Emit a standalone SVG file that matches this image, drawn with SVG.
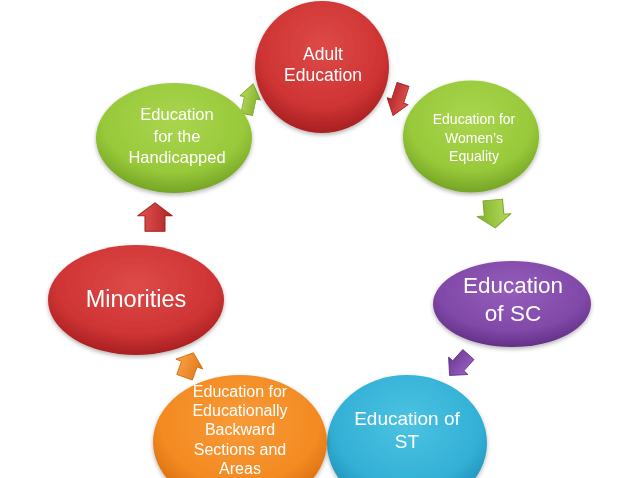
<svg xmlns="http://www.w3.org/2000/svg" width="638" height="478" viewBox="0 0 638 478">
<style>
.t{font-family:"Liberation Sans",Arial,sans-serif;fill:#ffffff;text-anchor:middle}
.a{stroke-width:0.8;stroke-linejoin:round}
</style>
<defs>
<filter id="sh" x="-20%" y="-20%" width="140%" height="150%">
<feGaussianBlur in="SourceAlpha" stdDeviation="2"/>
<feOffset dy="2"/>
<feComponentTransfer><feFuncA type="linear" slope="0.3"/></feComponentTransfer>
<feMerge><feMergeNode/><feMergeNode in="SourceGraphic"/></feMerge>
</filter>
<radialGradient id="gRed" cx="50%" cy="35%" r="65%">
<stop offset="0" stop-color="#dd4a48"/><stop offset="0.7" stop-color="#cf3434"/><stop offset="1" stop-color="#a82022"/>
</radialGradient>
<radialGradient id="gGreen" cx="50%" cy="35%" r="65%">
<stop offset="0" stop-color="#a9d54e"/><stop offset="0.7" stop-color="#98c93a"/><stop offset="1" stop-color="#76a426"/>
</radialGradient>
<radialGradient id="gPurple" cx="50%" cy="35%" r="65%">
<stop offset="0" stop-color="#955dbb"/><stop offset="0.7" stop-color="#8149a8"/><stop offset="1" stop-color="#633088"/>
</radialGradient>
<radialGradient id="gBlue" cx="50%" cy="35%" r="65%">
<stop offset="0" stop-color="#4cc3e2"/><stop offset="0.7" stop-color="#33b0d6"/><stop offset="1" stop-color="#1f8fb6"/>
</radialGradient>
<radialGradient id="gOrange" cx="50%" cy="35%" r="65%">
<stop offset="0" stop-color="#f89a38"/><stop offset="0.7" stop-color="#f38a22"/><stop offset="1" stop-color="#d56d10"/>
</radialGradient>
<linearGradient id="aRed" x1="0" y1="0" x2="0" y2="1"><stop offset="0" stop-color="#e25450"/><stop offset="1" stop-color="#b02626"/></linearGradient>
<linearGradient id="aGreen" x1="0" y1="0" x2="0" y2="1"><stop offset="0" stop-color="#b4dc5c"/><stop offset="1" stop-color="#82b02c"/></linearGradient>
<linearGradient id="aPurple" x1="0" y1="0" x2="0" y2="1"><stop offset="0" stop-color="#9a62c2"/><stop offset="1" stop-color="#6c3a94"/></linearGradient>
<linearGradient id="aOrange" x1="0" y1="0" x2="0" y2="1"><stop offset="0" stop-color="#fba446"/><stop offset="1" stop-color="#e07818"/></linearGradient>
<polygon id="arr" points="-13,-7.5 1,-7.5 1,-13 13,0 1,13 1,7.5 -13,7.5"/>
</defs>

<g id="connectors">
<use href="#arr" class="a" fill="url(#aRed)" stroke="#a02020" transform="translate(398,100) rotate(108) scale(1.25,0.85)"/>
<use href="#arr" class="a" fill="url(#aGreen)" stroke="#7aa428" transform="translate(494,214) rotate(85) scale(1.08,1.3)"/>
<use href="#arr" class="a" fill="url(#aPurple)" stroke="#5e2e84" transform="translate(459,365) rotate(132) scale(1.08,1.0)"/>
<use href="#arr" class="a" fill="url(#aOrange)" stroke="#d06c10" transform="translate(189,365) rotate(-70) scale(1.0,1.1)"/>
<use href="#arr" class="a" fill="url(#aRed)" stroke="#a02020" transform="translate(155,217) rotate(-90) scale(1.1,1.33)"/>
<use href="#arr" class="a" fill="url(#aGreen)" stroke="#7aa428" transform="translate(250,99) rotate(-78) scale(1.2,0.8)"/>
</g>

<g id="adult" filter="url(#sh)">
<ellipse cx="322" cy="67" rx="67" ry="66" fill="url(#gRed)"/>
<text class="t" x="323" y="60" font-size="17.5">Adult</text>
<text class="t" x="323" y="81" font-size="17.5">Education</text>
</g>

<g id="women" filter="url(#sh)">
<ellipse cx="471" cy="136.5" rx="68" ry="56" fill="url(#gGreen)"/>
<text class="t" x="474" y="124" font-size="14">Education for</text>
<text class="t" x="474" y="142.5" font-size="14">Women’s</text>
<text class="t" x="474" y="161" font-size="14">Equality</text>
</g>

<g id="sc" filter="url(#sh)">
<ellipse cx="512" cy="304" rx="79" ry="43" fill="url(#gPurple)"/>
<text class="t" x="513" y="293" font-size="22.5">Education</text>
<text class="t" x="513" y="321" font-size="22.5">of SC</text>
</g>

<g id="st" filter="url(#sh)">
<ellipse cx="407" cy="443" rx="80" ry="68" fill="url(#gBlue)"/>
<text class="t" x="407" y="425" font-size="19">Education of</text>
<text class="t" x="407" y="448" font-size="19">ST</text>
</g>

<g id="backward" filter="url(#sh)">
<ellipse cx="240" cy="442" rx="87" ry="67" fill="url(#gOrange)"/>
<text class="t" x="240" y="397" font-size="16">Education for</text>
<text class="t" x="240" y="416" font-size="16">Educationally</text>
<text class="t" x="240" y="435" font-size="16">Backward</text>
<text class="t" x="240" y="455" font-size="16">Sections and</text>
<text class="t" x="240" y="474" font-size="16">Areas</text>
</g>

<g id="minorities" filter="url(#sh)">
<ellipse cx="136" cy="300" rx="88" ry="55" fill="url(#gRed)"/>
<text class="t" x="136" y="307" font-size="23.5">Minorities</text>
</g>

<g id="handicapped" filter="url(#sh)">
<ellipse cx="174" cy="138" rx="78" ry="55" fill="url(#gGreen)"/>
<text class="t" x="177" y="120" font-size="16.5">Education</text>
<text class="t" x="177" y="142" font-size="16.5">for the</text>
<text class="t" x="177" y="163" font-size="16.5">Handicapped</text>
</g>
</svg>
